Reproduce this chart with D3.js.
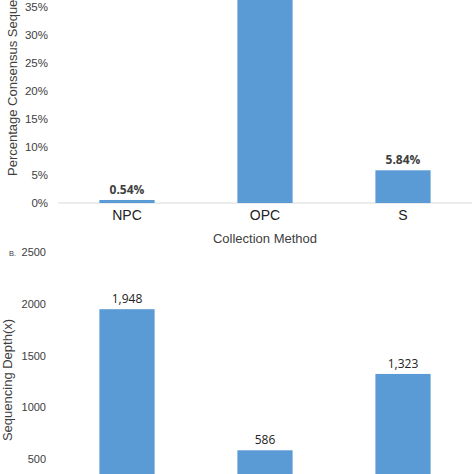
<!DOCTYPE html><html><head><meta charset="utf-8"><script src="https://cdn.jsdelivr.net/npm/d3@7"></script>
<style>body{margin:0;background:#fff}</style></head><body><svg id="c" width="474" height="474"></svg>
<script>
const categories=["NPC","OPC","S"];
const pctValues=[0.54,48.5,5.84];
const pctLabels=["0.54%","48.5%","5.84%"];
const pctTicks=[0,5,10,15,20,25,30,35];
const depthValues=[1948,586,1323];
const depthLabels=["1,948","586","1,323"];
const depthTicks=[500,1000,1500,2000,2500];
const svg=d3.select("#c");
const blue="#5b9bd5";
const x=d3.scaleBand().domain(categories).range([58,472]).paddingInner(0.6).paddingOuter(0.3);
const y1=d3.scaleLinear().domain([0,5]).range([203,175]);
svg.append("line").attr("x1",58).attr("x2",472).attr("y1",y1(0)).attr("y2",y1(0)).attr("stroke","#d9d9d9");
const ax1=svg.append("g").attr("transform","translate(51,0)").call(d3.axisLeft(y1).tickValues(pctTicks).tickSize(0).tickFormat(d=>d+"%"));
ax1.select(".domain").remove();
ax1.selectAll("text").attr("font-family","Liberation Sans, Arial").attr("font-size",11.5).attr("fill","#404040");
svg.selectAll(".b1").data(pctValues).join("rect").attr("x",(d,i)=>x(categories[i])).attr("width",x.bandwidth())
 .attr("y",d=>y1(d)).attr("height",d=>y1(0)-y1(d)).attr("fill",blue);
svg.selectAll(".l1").data(pctValues).join("text").attr("x",(d,i)=>x(categories[i])+x.bandwidth()/2).attr("y",d=>y1(d)-6)
 .attr("text-anchor","middle").attr("font-family","Open Sans").attr("font-weight","bold").attr("font-size",12).attr("fill","#404040").text((d,i)=>pctLabels[i]);
svg.selectAll(".c1").data(categories).join("text").attr("x",d=>x(d)+x.bandwidth()/2).attr("y",220).attr("text-anchor","middle")
 .attr("font-family","Liberation Sans, Arial").attr("font-size",14).attr("fill","#222").text(d=>d);
svg.append("text").attr("x",265).attr("y",243).attr("text-anchor","middle").attr("font-family","Liberation Sans, Arial").attr("font-size",13).attr("fill","#404040").text("Collection Method");
svg.append("text").attr("transform","translate(17,176) rotate(-90)").attr("font-family","Liberation Sans, Arial").attr("font-size",13).attr("fill","#404040").text("Percentage Consensus Sequence Generated");
const y2=d3.scaleLinear().domain([0,2500]).range([511,252]);
const ax2=svg.append("g").attr("transform","translate(49,0)").call(d3.axisLeft(y2).tickValues(depthTicks).tickSize(0).tickFormat(d3.format("d")));
ax2.select(".domain").remove();
ax2.selectAll("text").attr("font-family","Liberation Sans, Arial").attr("font-size",11).attr("fill","#404040");
svg.append("text").attr("x",9).attr("y",256).attr("font-family","Liberation Sans, Arial").attr("font-size",7.5).attr("fill","#404040").text("B.");
svg.selectAll(".b2").data(depthValues).join("rect").attr("x",(d,i)=>x(categories[i])).attr("width",x.bandwidth())
 .attr("y",d=>y2(d)).attr("height",d=>y2(0)-y2(d)).attr("fill",blue);
svg.selectAll(".l2").data(depthValues).join("text").attr("x",(d,i)=>x(categories[i])+x.bandwidth()/2).attr("y",d=>y2(d)-6)
 .attr("text-anchor","middle").attr("font-family","Open Sans").attr("font-size",12).attr("fill","#222").text((d,i)=>depthLabels[i]);
svg.append("text").attr("transform","translate(12,380) rotate(-90)").attr("text-anchor","middle").attr("font-family","Liberation Sans, Arial").attr("font-size",13).attr("fill","#404040").text("Sequencing Depth(x)");
</script></body></html>
